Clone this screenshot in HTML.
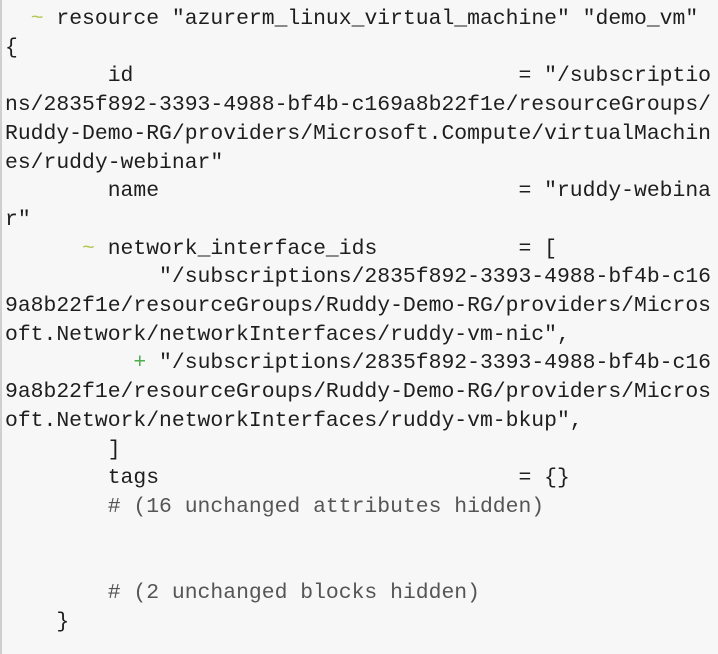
<!DOCTYPE html>
<html><head><meta charset="utf-8"><style>
html,body{margin:0;padding:0;}
body{width:718px;height:654px;background:#f7f7f7;overflow:hidden;position:relative;}
.bl{position:absolute;left:0;top:0;width:2px;height:654px;background:#cfcfcf;}
pre{position:absolute;left:5px;top:5px;margin:0;font-family:"Liberation Mono",monospace;font-size:21.4px;line-height:28.7px;color:#1e1e1e;white-space:pre;}
.t{color:#b8c75a;}
.p{color:#4cae4c;}
.c{color:#555;}
</style></head><body><div class="bl"></div><pre>  <span class="t">~</span> resource "azurerm_linux_virtual_machine" "demo_vm"
{
        id                              = "/subscriptio
ns/2835f892-3393-4988-bf4b-c169a8b22f1e/resourceGroups/
Ruddy-Demo-RG/providers/Microsoft.Compute/virtualMachin
es/ruddy-webinar"
        name                            = "ruddy-webina
r"
      <span class="t">~</span> network_interface_ids           = [
            "/subscriptions/2835f892-3393-4988-bf4b-c16
9a8b22f1e/resourceGroups/Ruddy-Demo-RG/providers/Micros
oft.Network/networkInterfaces/ruddy-vm-nic",
          <span class="p">+</span> "/subscriptions/2835f892-3393-4988-bf4b-c16
9a8b22f1e/resourceGroups/Ruddy-Demo-RG/providers/Micros
oft.Network/networkInterfaces/ruddy-vm-bkup",
        ]
        tags                            = {}
        <span class="c"># (16 unchanged attributes hidden)</span>


        <span class="c"># (2 unchanged blocks hidden)</span>
    }</pre></body></html>
